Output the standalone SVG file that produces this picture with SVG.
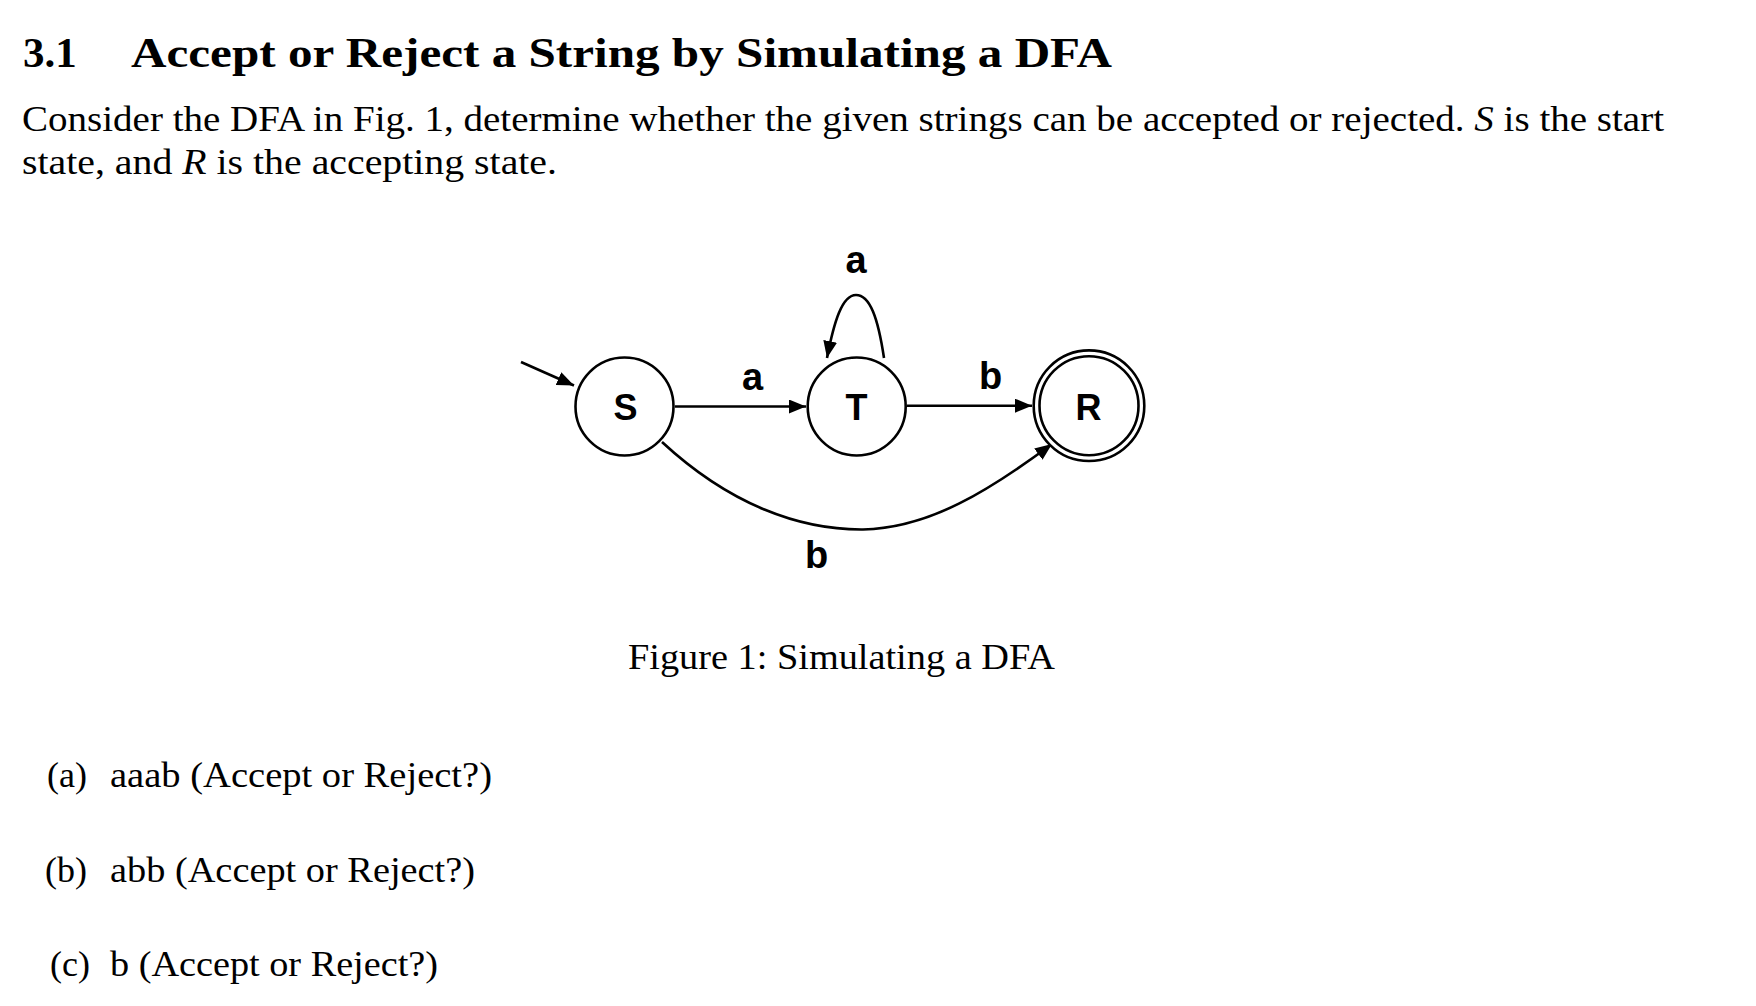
<svg xmlns="http://www.w3.org/2000/svg" width="1756" height="1006" viewBox="0 0 1756 1006">
<style>
.title{font-family:"Liberation Serif",serif;font-weight:bold;font-size:43px;fill:#000}
.body{font-family:"Liberation Serif",serif;font-size:36px;fill:#000}
.it{font-style:italic}
.state{fill:#fff;stroke:#000;stroke-width:2.6}
.slabel{font-family:"Liberation Sans",Arial,sans-serif;font-weight:bold;font-size:36px;fill:#000;text-anchor:middle}
.elabel{font-family:"Liberation Sans",Arial,sans-serif;font-weight:bold;font-size:38px;fill:#000;text-anchor:middle}
.edge{fill:none;stroke:#000;stroke-width:2.6}
</style>
<defs>
<marker id="arr" markerUnits="userSpaceOnUse" markerWidth="17" markerHeight="14" viewBox="0 0 17 14" refX="17" refY="7" orient="auto">
<path d="M0,0 L17,7 L0,14 z" fill="#000"/>
</marker>
</defs>
<rect width="1756" height="1006" fill="#fff"/>
<g id="heading">
<text class="title" x="23" y="66.5">3.1</text>
<text class="title" x="131" y="66.5" textLength="981" lengthAdjust="spacingAndGlyphs">Accept or Reject a String by Simulating a DFA</text>
</g>
<g id="intro">
<text class="body" x="22" y="131" textLength="1642" lengthAdjust="spacingAndGlyphs">Consider the DFA in Fig. 1, determine whether the given strings can be accepted or rejected.  <tspan class="it">S</tspan> is the start</text>
<text class="body" x="22" y="174" textLength="535" lengthAdjust="spacingAndGlyphs">state, and <tspan class="it">R</tspan> is the accepting state.</text>
</g>
<g id="connectors">
<path class="edge" d="M521,362 L574,385.5" marker-end="url(#arr)"/>
<path class="edge" d="M675,406.5 L806,406.5" marker-end="url(#arr)"/>
<path class="edge" d="M907,405.7 L1032,405.7" marker-end="url(#arr)"/>
<path class="edge" d="M884,358 C878,318 870,295 856,295 C842,295 834,322 827,358" marker-end="url(#arr)"/>
<path class="edge" d="M662,442 C730,505 800,530 863,529.5 C930,528 990,490 1052,444" marker-end="url(#arr)"/>
<text class="elabel" x="752.5" y="390">a</text>
<text class="elabel" x="990.5" y="389">b</text>
<text class="elabel" x="856" y="273">a</text>
<text class="elabel" x="816.5" y="568">b</text>
</g>
<g id="node-S">
<circle class="state" cx="624.5" cy="406.5" r="49"/>
<text class="slabel" x="625.5" y="419.5">S</text>
</g>
<g id="node-T">
<circle class="state" cx="856.7" cy="406.5" r="49"/>
<text class="slabel" x="856.5" y="419.5">T</text>
</g>
<g id="node-R">
<circle class="state" cx="1089" cy="405.7" r="55.3"/>
<circle class="state" cx="1089" cy="405.7" r="49.5"/>
<text class="slabel" x="1088.5" y="419.5">R</text>
</g>
<g id="caption">
<text class="body" x="628" y="669" textLength="427" lengthAdjust="spacingAndGlyphs">Figure 1: Simulating a DFA</text>
</g>
<g id="questions">
<text class="body" x="47" y="787">(a)</text>
<text class="body" x="110" y="787" textLength="382" lengthAdjust="spacingAndGlyphs">aaab (Accept or Reject?)</text>
<text class="body" x="45" y="881.5">(b)</text>
<text class="body" x="110" y="881.5" textLength="365" lengthAdjust="spacingAndGlyphs">abb (Accept or Reject?)</text>
<text class="body" x="50" y="975.5">(c)</text>
<text class="body" x="110" y="975.5" textLength="328" lengthAdjust="spacingAndGlyphs">b (Accept or Reject?)</text>
</g>
</svg>
